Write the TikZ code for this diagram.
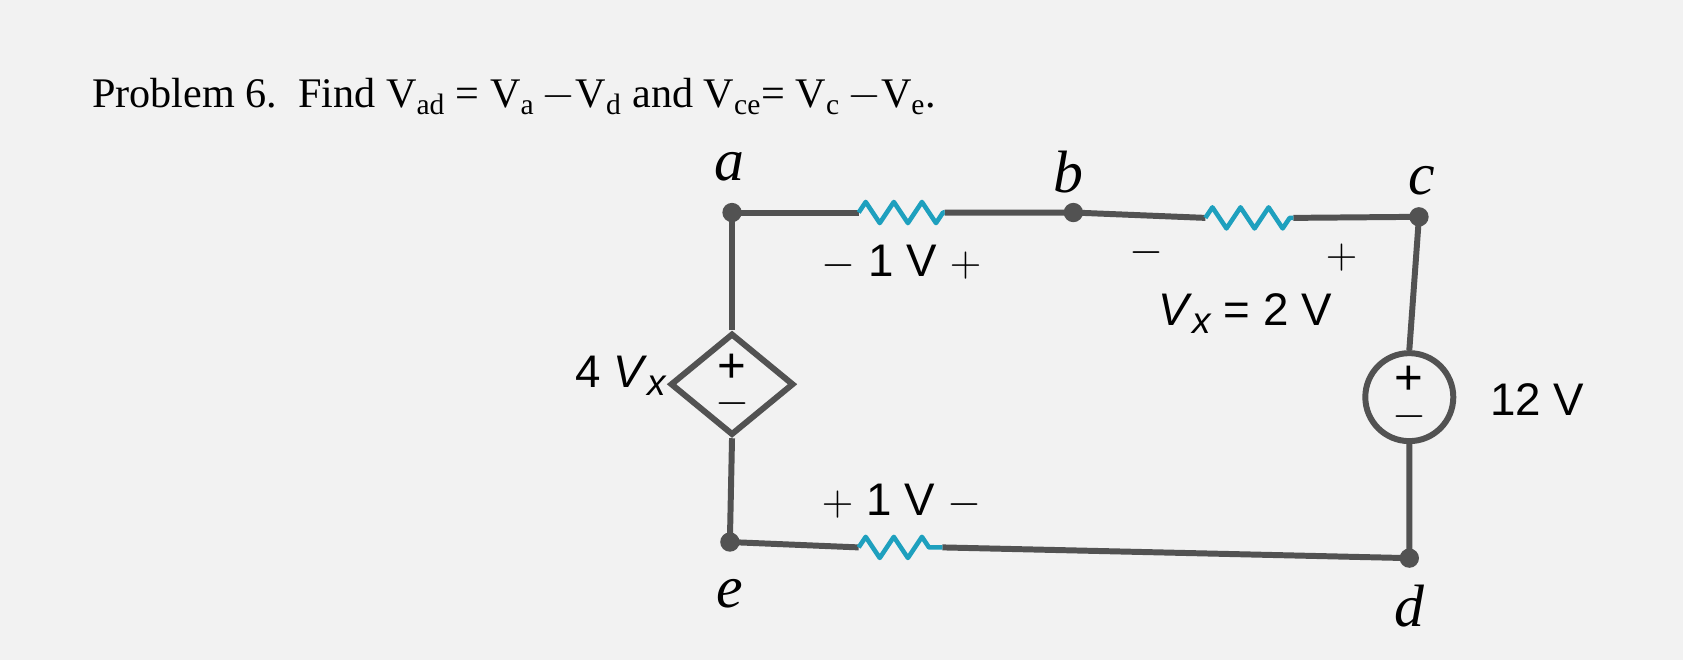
\documentclass[tikz,border=0pt]{standalone}
\usepackage{fontspec}
\setmainfont{Liberation Serif}
\newfontfamily\lsans{Liberation Sans}
\usetikzlibrary{shapes.geometric,decorations.pathmorphing}
\definecolor{rescol}{RGB}{30,160,190}
\newcommand{\myVx}{\textit{V}\raisebox{-0.35ex}{\fontsize{21}{21}\selectfont\itshape x}}
\begin{document}
\begin{tikzpicture}[x=0.02147cm,y=-0.02147cm,
 wire/.style={draw=black!68,line width=3.4pt},
 res/.style={draw=rescol,line width=2.6pt,line join=round,decorate,decoration={zigzag,segment length=16,amplitude=6}},
 dot/.style={circle,fill=black!68,inner sep=0pt,minimum size=11pt},
 lbl/.style={font=\lsans\fontsize{26}{30}\selectfont},
 pm/.style={font=\lsans\fontsize{28}{28}\selectfont,inner sep=0pt},
 nm/.style={font=\itshape\fontsize{34}{38}\selectfont}]
\fill[black!5] (0,0) rectangle (1568,615);
\useasboundingbox (0,0) rectangle (1568,615);
\node[anchor=west,font=\fontsize{24}{30}\selectfont] (title) at (80,90) {Problem 6.\ \ Find V\textsubscript{ad} = V\textsubscript{a}\,$-$V\textsubscript{d} and V\textsubscript{ce}= V\textsubscript{c}\,$-$V\textsubscript{e}.};
\coordinate (a) at (682,198);
\coordinate (b) at (1000,198);
\coordinate (c) at (1322,202);
\coordinate (d) at (1313,520);
\coordinate (e) at (680,505);
\coordinate (r1a) at (800,198); \coordinate (r1b) at (880,198);
\coordinate (r2a) at (1123,203); \coordinate (r2b) at (1205,203);
\coordinate (r3a) at (800,510); \coordinate (r3b) at (878,510);
\node[diamond,draw=black!68,line width=3.4pt,minimum width=2.47cm,minimum height=2.04cm,inner sep=0pt,fill=black!5] (dep) at (682,358) {};
\node[circle,draw=black!68,line width=3.4pt,minimum size=1.76cm,inner sep=0pt] (ind) at (1313,370) {};
\draw[wire] (a) -- (r1a); \draw[wire] (r1b) -- (b) -- (r2a);
\draw[wire] (r2b) -- (c) -- (ind.north); \draw[wire] (ind.south) -- (d) -- (r3b);
\draw[wire] (r3a) -- (e) -- (dep.south); \draw[wire] (dep.north) -- (a);
\draw[res] (r1a) -- (r1b); \draw[res] (r2a) -- (r2b); \draw[res] (r3a) -- (r3b);
\foreach \p in {a,b,c,d,e} \node[dot] at (\p) {};
\node[pm] (dp) at (682,343) {+};
\node[pm] (dm) at (682,376) {$-$};
\node[pm] (ip) at (1313,354) {+};
\node[pm] (im) at (1313,388) {$-$};
\node[nm] (la) at (680,155) {a};
\node[nm] (lb) at (995,160) {b};
\node[nm] (lc) at (1325,168) {c};
\node[nm] (le) at (680,553) {e};
\node[nm] (ld) at (1313,565) {d};
\node[lbl] (v1) at (840,245) {$-$ 1 V $+$};
\node[lbl] (m2) at (1068,235) {$-$};
\node[lbl] (p2) at (1250,240) {$+$};
\node[lbl] (vx) at (1160,292) {\myVx\ = 2 V};
\node[lbl] (fv) at (578,350) {4 \myVx};
\node[lbl] (tv) at (1432,372) {12 V};
\node[lbl] (v3) at (840,467) {$+$ 1 V $-$};
\end{tikzpicture}
\end{document}
